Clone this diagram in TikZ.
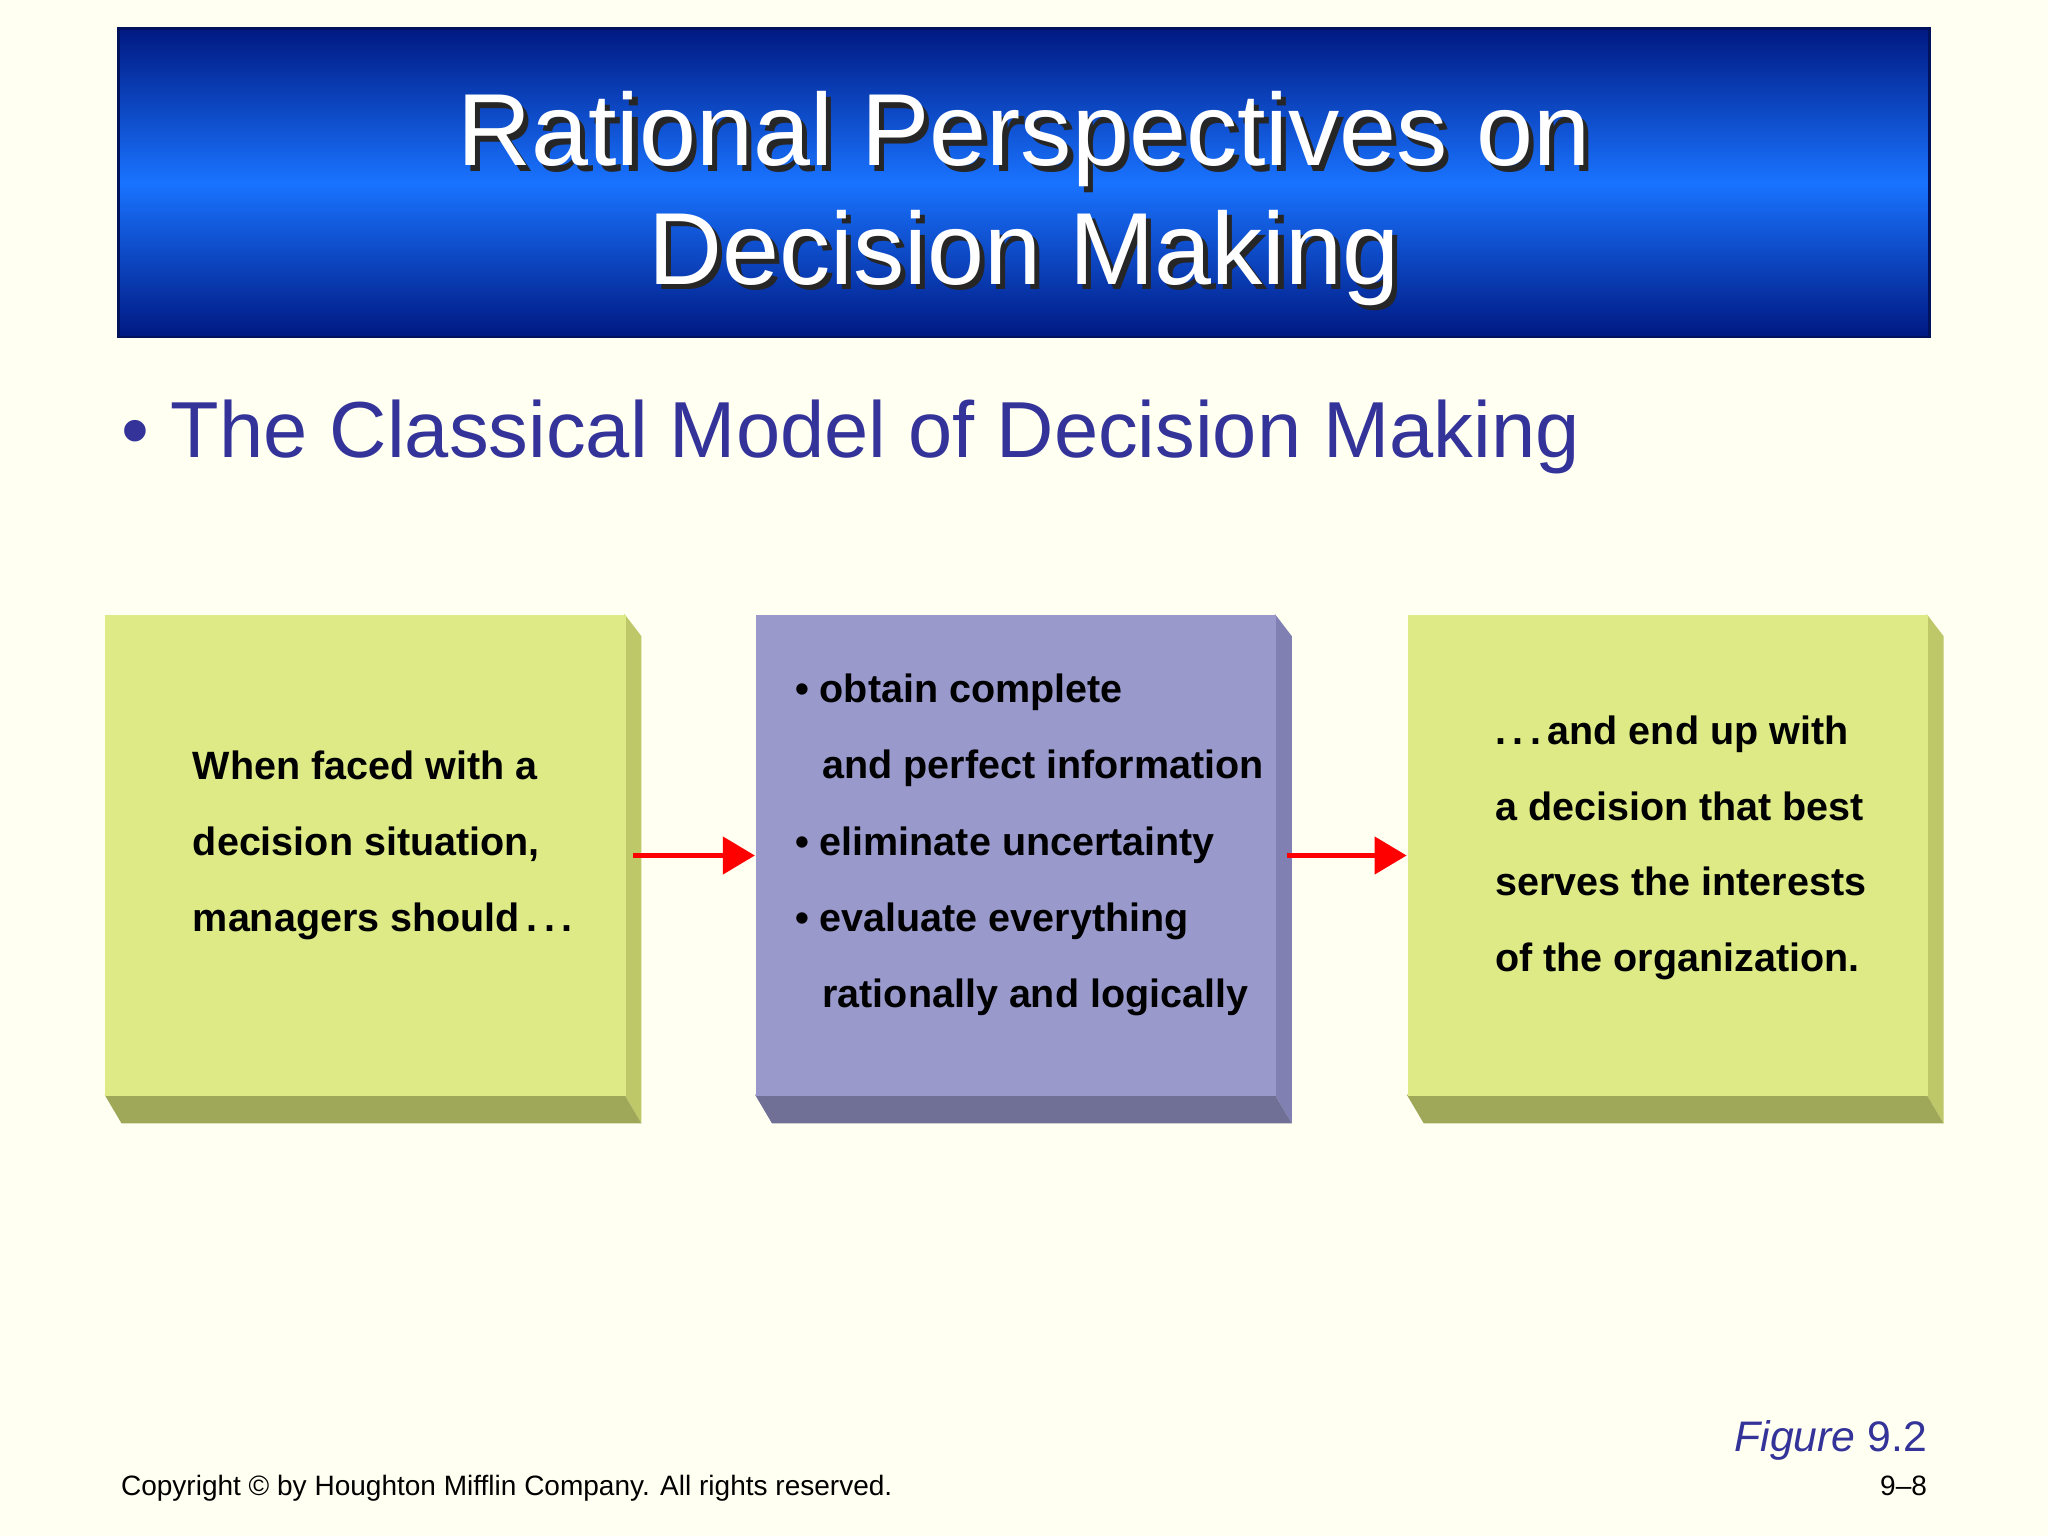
\documentclass[tikz,border=0pt]{standalone}
\usepackage{fontspec}
\setmainfont{Liberation Sans}
\definecolor{bg}{RGB}{255,255,242}
\definecolor{dkb}{RGB}{0,25,130}
\definecolor{mdb}{RGB}{25,115,255}
\definecolor{bul}{RGB}{51,51,153}
\definecolor{gf}{RGB}{221,234,133}
\definecolor{gs}{RGB}{190,200,105}
\definecolor{gb}{RGB}{158,168,88}
\definecolor{pf}{RGB}{153,153,204}
\definecolor{ps}{RGB}{128,128,178}
\definecolor{pb}{RGB}{112,112,150}
\usetikzlibrary{arrows.meta}
\tikzset{
 boxtxt/.style={anchor=base west,inner sep=0pt,font=\fontsize{8.6}{10}\selectfont\bfseries},
 conn/.style={red,line width=1.2pt,-{Triangle[length=7pt,width=8pt]}},
 ttl/.style={inner sep=0pt,anchor=base,font=\fontsize{22.3}{26}\selectfont}
}
\begin{document}
\begin{tikzpicture}[x=0.01cm,y=-0.01cm]
\fill[bg] (0,0) rectangle (1568,1176);
\useasboundingbox (0,0) rectangle (1568,1176);
% title banner
\shade[top color=dkb,bottom color=dkb,middle color=mdb] (91,22) rectangle (1477,258);
\draw[dkb!70!black,line width=0.6pt] (91,22) rectangle (1477,258);
\foreach \t/\y in {Rational Perspectives on/127,Decision Making/218}{
 \node[ttl,text=black!85] at (788,\y+4) {\t};
 \node[ttl,text=white] at (784,\y) {\t};
}
\node[anchor=base west,inner sep=0pt,text=bul,font=\fontsize{17.3}{20}\selectfont] (sub) at (92,350) {\textbullet\ The Classical Model of Decision Making};
% boxes
\foreach \x/\f/\s/\b/\n in {80/gf/gs/gb/L,578/pf/ps/pb/M,1077/gf/gs/gb/R}{
 \fill[\s] (\x+398,470) -- (\x+411,487) -- (\x+411,860) -- (\x+398,838) -- cycle;
 \fill[\b] (\x,838) -- (\x+398,838) -- (\x+411,860) -- (\x+13,860) -- cycle;
 \node[fill=\f,inner sep=0pt,minimum width=3.98cm,minimum height=3.68cm,anchor=north west] (\n) at (\x,470) {};
}
\node[boxtxt] (l1) at (147,597) {When faced with a};
\node[boxtxt] (l2) at (147,655) {decision situation,};
\node[boxtxt] (l3) at (147,713) {managers should\,.\,.\,.};
\node[boxtxt] (m1) at (608,538) {\textbullet\ obtain complete};
\node[boxtxt] (m2) at (629,596) {and perfect information};
\node[boxtxt] (m3) at (608,655) {\textbullet\ eliminate uncertainty};
\node[boxtxt] (m4) at (608,713) {\textbullet\ evaluate everything};
\node[boxtxt] (m5) at (629,771) {rationally and logically};
\node[boxtxt] (r1) at (1144,570) {.\,.\,.\,and end up with};
\node[boxtxt] (r2) at (1144,628) {a decision that best};
\node[boxtxt] (r3) at (1144,686) {serves the interests};
\node[boxtxt] (r4) at (1144,744) {of the organization.};
\coordinate (a1) at (485,655);
\coordinate (a2) at (985,655);
\draw[conn] (a1) -- (M.west|-a1);
\draw[conn] (a2) -- (R.west|-a2);
% footer
\node[anchor=base east,inner sep=0pt,text=bul,font=\fontsize{9.3}{11}\selectfont] (fig) at (1476,1111) {\textit{Figure} 9.2};
\node[anchor=base west,inner sep=0pt,font=\fontsize{6.1}{7}\selectfont] (copy) at (92,1145) {Copyright \textcopyright\ by Houghton Mifflin Company. All rights reserved.};
\node[anchor=base east,inner sep=0pt,font=\fontsize{6.1}{7}\selectfont] (pg) at (1476,1145) {9–8};
\end{tikzpicture}
\end{document}
